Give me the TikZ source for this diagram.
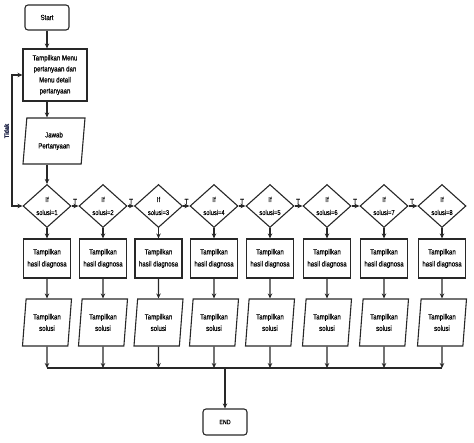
\documentclass[tikz,border=0pt]{standalone}
\usepackage{fontspec}
\setmainfont{Liberation Sans}[FakeStretch=0.82, FakeBold=0.4]
\newfontfamily\tidakfont{Liberation Sans Bold}[FakeStretch=0.85, FakeBold=0.6]
\usetikzlibrary{shapes.geometric,arrows.meta}
\definecolor{lc}{RGB}{40,40,40}
\definecolor{tidakc}{RGB}{30,35,70}
\begin{document}
\begin{tikzpicture}[x=1pt,y=-1pt,
 ln/.style={draw=lc, line width=1.1pt},
 arr/.style={ln,-{Stealth[length=5pt,width=4.5pt]}},
 term/.style={ln, rounded corners=3pt, minimum width=44pt, minimum height=25pt, inner sep=0, font=\fontsize{7.5}{9}\selectfont},
 proc/.style={ln, minimum width=47pt, minimum height=39pt, inner sep=0, align=center, font=\fontsize{7.5}{12}\selectfont},
 io/.style={ln, trapezium, trapezium left angle=78, trapezium right angle=102, trapezium stretches body, minimum width=49pt, minimum height=47pt, inner sep=0, align=center, font=\fontsize{7.5}{11.5}\selectfont},
 dec/.style={ln, diamond, minimum width=48pt, minimum height=43pt, inner sep=0, align=center, font=\fontsize{7}{13}\selectfont},
 tlab/.style={anchor=south west, inner sep=1pt, font=\fontsize{8}{9}\selectfont},
]
\useasboundingbox (0,0) rectangle (474,443);

\node[term] (start) at (47,17.5) {Start};
\node[proc, minimum width=64pt, minimum height=52pt, font=\fontsize{7.5}{11}\selectfont] (menu) at (55,75) {Tampilkan Menu\\pertanyaan dan\\Menu detail\\pertanyaan};
\node[io, minimum width=62pt, minimum height=46pt, font=\fontsize{7.5}{11}\selectfont] (jawab) at (54,141) {Jawab\\Pertanyaan};

\draw[arr] (start.south) -- (start.south |- menu.north);
\draw[arr] (menu.south -| start) -- (jawab.north -| start);

\foreach \i/\x in {1/47,2/103,3/158.5,4/214,5/270,6/327,7/384,8/442}{
  \node[dec] (d\i) at (\x,206) {If\\solusi=\i};
  \node[proc] (h\i) at (\x,258.5) {Tampilkan\\hasil diagnosa};
  \node[io] (s\i) at (\x,322.5) {Tampilkan\\solusi};
  \coordinate (b\i) at (\x,368);
  \draw[arr] (d\i.south) -- (h\i.north);
  \draw[arr] (h\i.south) -- (s\i.north);
  \draw[arr] (s\i.south) -- (b\i);
}
\foreach \i/\j in {1/2,2/3,3/4,4/5,5/6,6/7,7/8}{
  \draw[arr] (d\i.east) -- (d\j.west) node[at start, tlab] {T};
}
\draw[arr] (jawab.south -| d1) -- (d1.north);

\draw[ln] (b1) -- (b8);
\node[term, minimum height=26pt, font=\fontsize{6.5}{8}\selectfont] (end) at (225,422) {END};
\coordinate (bm) at (225,368);
\draw[arr] (bm) -- (end.north);

\coordinate (lp1) at (12,75);
\coordinate (lp2) at (12,206);
\draw[ln, {Stealth[length=5pt,width=4.5pt]}-{Stealth[length=5pt,width=4.5pt]}] (d1.west) -- (lp2) -- (lp1) -- (menu.west);
\node[rotate=90, inner sep=0, text=tidakc, font=\tidakfont\fontsize{6.5}{7}\selectfont] (tidak) at (6.5,131) {Tidak};
\end{tikzpicture}
\end{document}
